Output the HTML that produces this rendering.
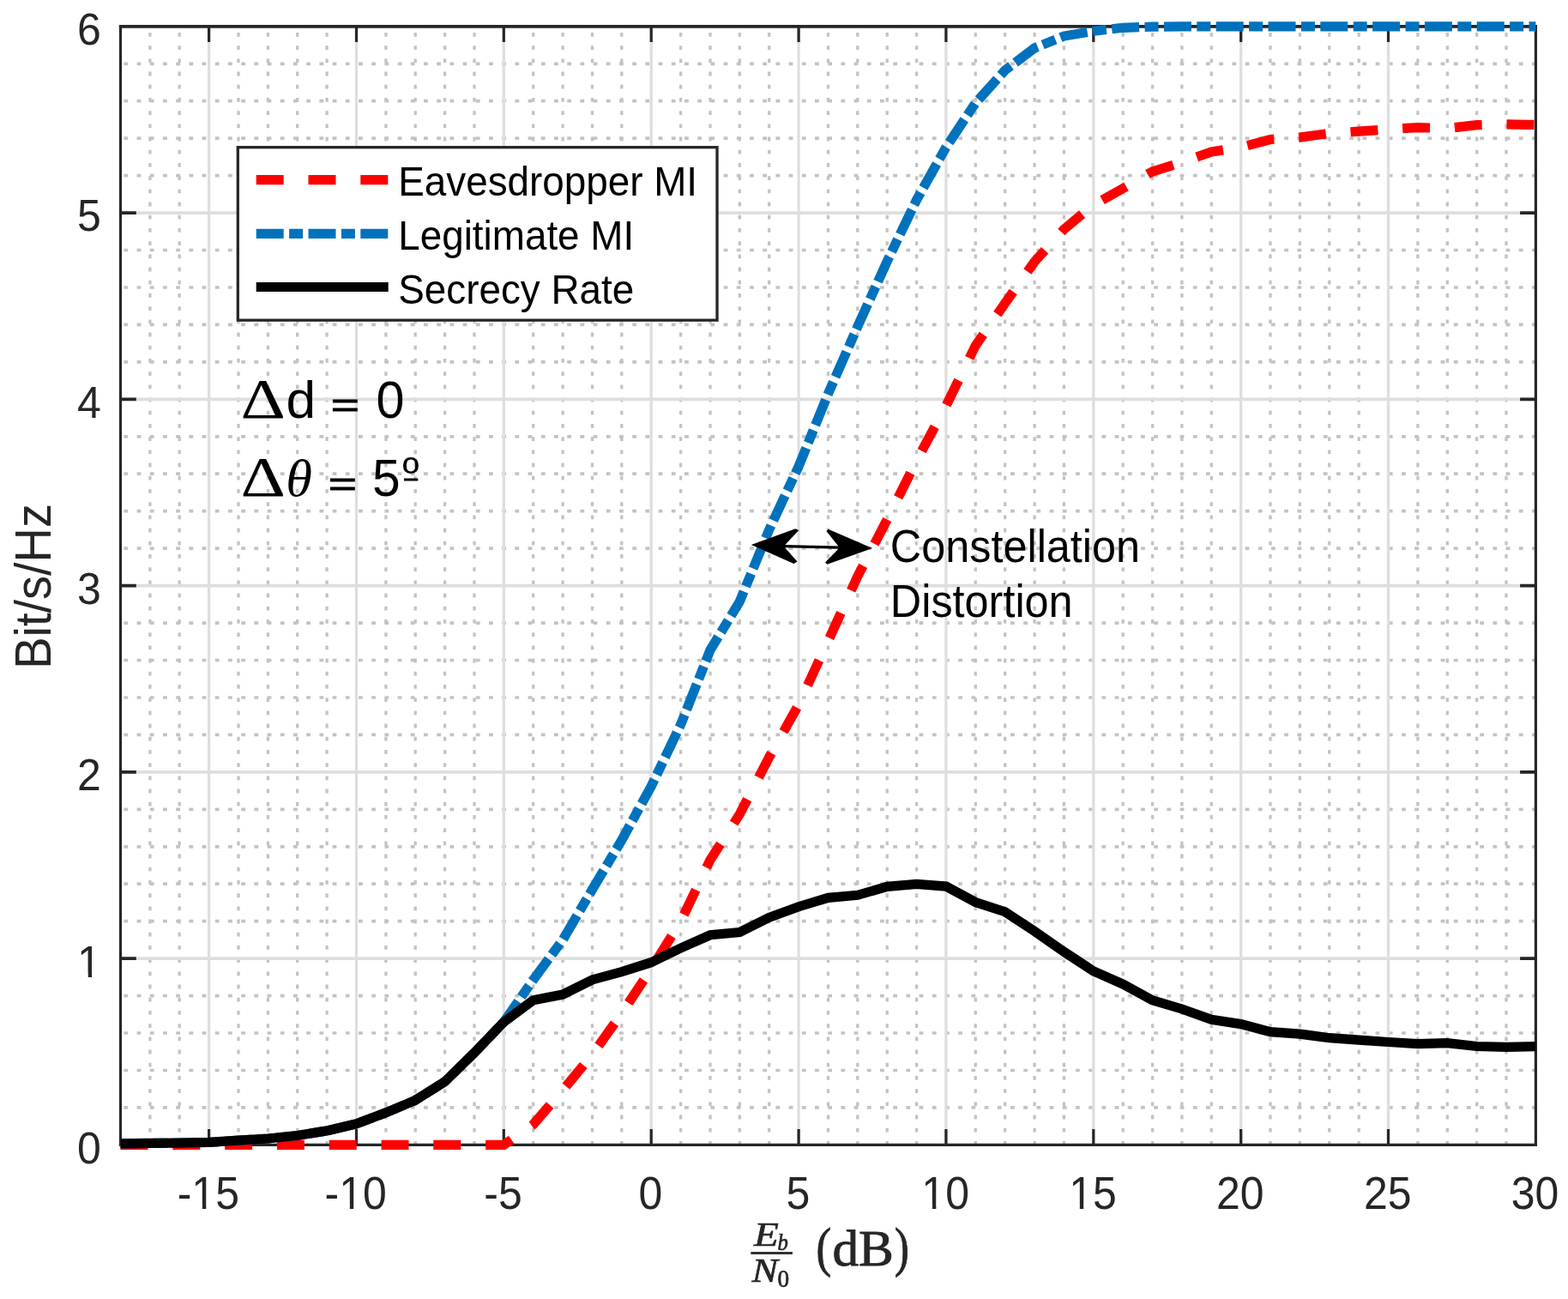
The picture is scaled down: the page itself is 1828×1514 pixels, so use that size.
<!DOCTYPE html>
<html lang="en"><head><meta charset="utf-8"><title>Mutual information and secrecy rate</title>
<style>html,body{margin:0;padding:0;background:#fff}svg{display:block}text{font-family:'Liberation Sans', sans-serif}text.sf{font-family:'Liberation Serif', serif}</style></head><body>
<svg width="1828" height="1514" viewBox="0 0 1828 1514">
<rect width="1828" height="1514" fill="#fff"/>
<g stroke="#c3c3c3" fill="none">
<g stroke-width="3.3" stroke-dasharray="4.8 10.4">
<path d="M174.9,1334.8 V30.8"/>
<path d="M209.2,1334.8 V30.8"/>
<path d="M278.0,1334.8 V30.8"/>
<path d="M312.4,1334.8 V30.8"/>
<path d="M346.7,1334.8 V30.8"/>
<path d="M381.1,1334.8 V30.8"/>
<path d="M449.9,1334.8 V30.8"/>
<path d="M484.2,1334.8 V30.8"/>
<path d="M518.6,1334.8 V30.8"/>
<path d="M553.0,1334.8 V30.8"/>
<path d="M621.7,1334.8 V30.8"/>
<path d="M656.1,1334.8 V30.8"/>
<path d="M690.5,1334.8 V30.8"/>
<path d="M724.8,1334.8 V30.8"/>
<path d="M793.6,1334.8 V30.8"/>
<path d="M828.0,1334.8 V30.8"/>
<path d="M862.3,1334.8 V30.8"/>
<path d="M896.7,1334.8 V30.8"/>
<path d="M965.5,1334.8 V30.8"/>
<path d="M999.8,1334.8 V30.8"/>
<path d="M1034.2,1334.8 V30.8"/>
<path d="M1068.6,1334.8 V30.8"/>
<path d="M1137.3,1334.8 V30.8"/>
<path d="M1171.7,1334.8 V30.8"/>
<path d="M1206.1,1334.8 V30.8"/>
<path d="M1240.4,1334.8 V30.8"/>
<path d="M1309.2,1334.8 V30.8"/>
<path d="M1343.6,1334.8 V30.8"/>
<path d="M1377.9,1334.8 V30.8"/>
<path d="M1412.3,1334.8 V30.8"/>
<path d="M1481.0,1334.8 V30.8"/>
<path d="M1515.4,1334.8 V30.8"/>
<path d="M1549.8,1334.8 V30.8"/>
<path d="M1584.2,1334.8 V30.8"/>
<path d="M1652.9,1334.8 V30.8"/>
<path d="M1687.3,1334.8 V30.8"/>
<path d="M1721.7,1334.8 V30.8"/>
<path d="M1756.0,1334.8 V30.8"/>
</g><g stroke-width="3.7" stroke-dasharray="4.8 10.4">
<path d="M1790.8,1290.9 H140.5"/>
<path d="M1790.8,1247.5 H140.5"/>
<path d="M1790.8,1204.0 H140.5"/>
<path d="M1790.8,1160.6 H140.5"/>
<path d="M1790.8,1073.7 H140.5"/>
<path d="M1790.8,1030.2 H140.5"/>
<path d="M1790.8,986.8 H140.5"/>
<path d="M1790.8,943.3 H140.5"/>
<path d="M1790.8,856.4 H140.5"/>
<path d="M1790.8,813.0 H140.5"/>
<path d="M1790.8,769.5 H140.5"/>
<path d="M1790.8,726.1 H140.5"/>
<path d="M1790.8,639.1 H140.5"/>
<path d="M1790.8,595.7 H140.5"/>
<path d="M1790.8,552.2 H140.5"/>
<path d="M1790.8,508.8 H140.5"/>
<path d="M1790.8,421.9 H140.5"/>
<path d="M1790.8,378.4 H140.5"/>
<path d="M1790.8,335.0 H140.5"/>
<path d="M1790.8,291.5 H140.5"/>
<path d="M1790.8,204.6 H140.5"/>
<path d="M1790.8,161.2 H140.5"/>
<path d="M1790.8,117.7 H140.5"/>
<path d="M1790.8,74.3 H140.5"/>
</g></g>
<g stroke="#dedede" fill="none">
<g stroke-width="3.3">
<path d="M243.6,1334.4 V30.8"/>
<path d="M415.5,1334.4 V30.8"/>
<path d="M587.3,1334.4 V30.8"/>
<path d="M759.2,1334.4 V30.8"/>
<path d="M931.1,1334.4 V30.8"/>
<path d="M1102.9,1334.4 V30.8"/>
<path d="M1274.8,1334.4 V30.8"/>
<path d="M1446.7,1334.4 V30.8"/>
<path d="M1618.5,1334.4 V30.8"/>
</g><g stroke-width="3.7">
<path d="M140.5,1117.1 H1790.4"/>
<path d="M140.5,899.9 H1790.4"/>
<path d="M140.5,682.6 H1790.4"/>
<path d="M140.5,465.3 H1790.4"/>
<path d="M140.5,248.1 H1790.4"/>
</g></g>
<g stroke="#262626" fill="none">
<g stroke-width="3.2">
<path d="M140.5,28.9 V1335.9 M1790.4,28.9 V1335.9"/>
<path d="M243.6,1334.4 v-18.3 M243.6,30.8 v18.3"/>
<path d="M415.5,1334.4 v-18.3 M415.5,30.8 v18.3"/>
<path d="M587.3,1334.4 v-18.3 M587.3,30.8 v18.3"/>
<path d="M759.2,1334.4 v-18.3 M759.2,30.8 v18.3"/>
<path d="M931.1,1334.4 v-18.3 M931.1,30.8 v18.3"/>
<path d="M1102.9,1334.4 v-18.3 M1102.9,30.8 v18.3"/>
<path d="M1274.8,1334.4 v-18.3 M1274.8,30.8 v18.3"/>
<path d="M1446.7,1334.4 v-18.3 M1446.7,30.8 v18.3"/>
<path d="M1618.5,1334.4 v-18.3 M1618.5,30.8 v18.3"/>
</g><g stroke-width="3.7">
<path d="M138.9,30.8 H1792.0"/>
<path d="M138.9,1334.4 H1792.0" stroke-width="3.2"/>
<path d="M140.5,1117.1 h18.3 M1790.4,1117.1 h-18.3"/>
<path d="M140.5,899.9 h18.3 M1790.4,899.9 h-18.3"/>
<path d="M140.5,682.6 h18.3 M1790.4,682.6 h-18.3"/>
<path d="M140.5,465.3 h18.3 M1790.4,465.3 h-18.3"/>
<path d="M140.5,248.1 h18.3 M1790.4,248.1 h-18.3"/>
</g></g>
<g fill="none" stroke-width="11.2" stroke-linejoin="miter">
<path d="M140.5,1334.4 L174.9,1334.4 L209.2,1334.4 L243.6,1334.4 L278.0,1334.4 L312.4,1334.4 L346.7,1334.4 L381.1,1334.4 L415.5,1334.4 L449.9,1334.4 L484.2,1334.4 L518.6,1334.4 L553.0,1334.4 L587.3,1334.4 L621.7,1310.5 L656.1,1270.7 L690.5,1229.2 L724.8,1181.0 L759.2,1129.1 L793.6,1073.9 L828.0,1002.2 L862.3,949.0 L896.7,882.5 L931.1,821.2 L965.5,746.9 L999.8,671.7 L1034.2,605.7 L1068.6,536.8 L1102.9,472.9 L1137.3,402.8 L1171.7,353.4 L1206.1,305.0 L1240.4,267.2 L1274.8,238.7 L1309.2,219.6 L1343.6,199.8 L1377.9,189.2 L1412.3,177.0 L1446.7,171.6 L1481.0,162.5 L1515.4,160.1 L1549.8,155.5 L1584.2,153.1 L1618.5,150.7 L1652.9,148.6 L1687.3,149.6 L1721.7,145.7 L1756.0,144.9 L1790.4,145.5" stroke="#ff0000" stroke-dasharray="32 28.8"/>
<path d="M140.5,1332.9 L174.9,1332.4 L209.2,1332.2 L243.6,1331.4 L278.0,1329.2 L312.4,1327.0 L346.7,1323.5 L381.1,1317.9 L415.5,1309.8 L449.9,1296.8 L484.2,1282.3 L518.6,1260.7 L553.0,1227.1 L587.3,1191.2 L621.7,1141.9 L656.1,1095.4 L690.5,1036.7 L724.8,979.2 L759.2,916.4 L793.6,844.5 L828.0,757.6 L862.3,701.1 L896.7,617.4 L931.1,543.5 L965.5,458.8 L999.8,380.6 L1034.2,304.6 L1068.6,232.9 L1102.9,171.6 L1137.3,119.9 L1171.7,81.9 L1206.1,56.0 L1240.4,42.1 L1274.8,36.2 L1309.2,32.3 L1343.6,31.2 L1377.9,30.8 L1412.3,30.8 L1446.7,30.8 L1481.0,30.8 L1515.4,30.8 L1549.8,30.8 L1584.2,30.8 L1618.5,30.8 L1652.9,30.8 L1687.3,30.8 L1721.7,30.8 L1756.0,30.8 L1790.4,30.8" stroke="#0072bd" stroke-dasharray="32 6.4 16 6.4"/>
<path d="M140.5,1332.9 L174.9,1332.4 L209.2,1332.2 L243.6,1331.4 L278.0,1329.2 L312.4,1327.0 L346.7,1323.5 L381.1,1317.9 L415.5,1309.8 L449.9,1296.8 L484.2,1282.3 L518.6,1260.7 L553.0,1227.1 L587.3,1191.2 L621.7,1165.8 L656.1,1159.1 L690.5,1141.9 L724.8,1132.6 L759.2,1121.7 L793.6,1105.0 L828.0,1089.8 L862.3,1086.5 L896.7,1069.3 L931.1,1056.7 L965.5,1046.3 L999.8,1043.3 L1034.2,1033.3 L1068.6,1030.4 L1102.9,1033.1 L1137.3,1051.5 L1171.7,1062.8 L1206.1,1085.4 L1240.4,1109.3 L1274.8,1131.9 L1309.2,1147.1 L1343.6,1165.8 L1377.9,1176.0 L1412.3,1188.2 L1446.7,1193.6 L1481.0,1202.7 L1515.4,1205.1 L1549.8,1209.7 L1584.2,1212.1 L1618.5,1214.5 L1652.9,1216.6 L1687.3,1215.6 L1721.7,1219.5 L1756.0,1220.3 L1790.4,1219.7" stroke="#000"/>
</g>
<g fill="#262626">
<text transform="translate(117.90,1355.80) scale(1,1.04)" font-size="50" text-anchor="end">0</text>
<text transform="translate(117.90,1138.53) scale(1,1.04)" font-size="50" text-anchor="end">1</text>
<text transform="translate(117.90,921.27) scale(1,1.04)" font-size="50" text-anchor="end">2</text>
<text transform="translate(117.90,704.00) scale(1,1.04)" font-size="50" text-anchor="end">3</text>
<text transform="translate(117.90,486.73) scale(1,1.04)" font-size="50" text-anchor="end">4</text>
<text transform="translate(117.90,269.47) scale(1,1.04)" font-size="50" text-anchor="end">5</text>
<text transform="translate(117.90,52.20) scale(1,1.04)" font-size="50" text-anchor="end">6</text>
<text transform="translate(242.82,1408.60) scale(1,1.055)" font-size="50" text-anchor="middle">-15</text>
<text transform="translate(414.68,1408.60) scale(1,1.055)" font-size="50" text-anchor="middle">-10</text>
<text transform="translate(586.55,1408.60) scale(1,1.055)" font-size="50" text-anchor="middle">-5</text>
<text transform="translate(758.41,1408.60) scale(1,1.055)" font-size="50" text-anchor="middle">0</text>
<text transform="translate(930.28,1408.60) scale(1,1.055)" font-size="50" text-anchor="middle">5</text>
<text transform="translate(1102.14,1408.60) scale(1,1.055)" font-size="50" text-anchor="middle">10</text>
<text transform="translate(1274.01,1408.60) scale(1,1.055)" font-size="50" text-anchor="middle">15</text>
<text transform="translate(1445.87,1408.60) scale(1,1.055)" font-size="50" text-anchor="middle">20</text>
<text transform="translate(1617.74,1408.60) scale(1,1.055)" font-size="50" text-anchor="middle">25</text>
<text transform="translate(1789.60,1408.60) scale(1,1.055)" font-size="50" text-anchor="middle">30</text>
<g fill="#fff"><rect x="93.10" y="1134.03" width="9.62" height="5.30"/><rect x="107.10" y="1134.03" width="9.50" height="5.30"/><rect x="226.34" y="1404.04" width="9.62" height="5.36"/><rect x="240.34" y="1404.04" width="9.50" height="5.36"/><rect x="398.21" y="1404.04" width="9.62" height="5.36"/><rect x="412.21" y="1404.04" width="9.50" height="5.36"/><rect x="1077.34" y="1404.04" width="9.62" height="5.36"/><rect x="1091.34" y="1404.04" width="9.50" height="5.36"/><rect x="1249.21" y="1404.04" width="9.62" height="5.36"/><rect x="1263.21" y="1404.04" width="9.50" height="5.36"/></g>
<text transform="translate(59.00,683.40) rotate(-90) scale(1,1.065)" font-size="56" text-anchor="middle">Bit/s/Hz</text>
<text transform="translate(878.90,1451.70) scale(1.152,1)" font-size="40.9" class="sf" font-style="italic" stroke="#262626" stroke-width="0.7">E</text>
<text transform="translate(906.60,1456.50) scale(0.906,1)" font-size="27.2" class="sf" font-style="italic" stroke="#262626" stroke-width="0.7">b</text>
<rect x="875.3" y="1459.1" width="48.6" height="2.8"/>
<text transform="translate(876.50,1493.90) scale(1.129,1)" font-size="40.5" class="sf" font-style="italic" stroke="#262626" stroke-width="0.7">N</text>
<text transform="translate(906.50,1500.00) scale(0.956,1)" font-size="28.4" class="sf" stroke="#262626" stroke-width="0.7">0</text>
<text transform="translate(951.50,1475.25) scale(0.875,1.068)" font-size="60" class="sf" stroke="#262626" stroke-width="0.9">(</text>
<text transform="translate(970.40,1475.10) scale(1.02,1)" font-size="60" class="sf" stroke="#262626" stroke-width="0.9">dB</text>
<text transform="translate(1043.00,1475.25) scale(0.84,1.068)" font-size="60" class="sf" stroke="#262626" stroke-width="0.9">)</text>
</g>
<rect x="277.3" y="171.7" width="558.7" height="201.5" fill="#fff" stroke="#262626" stroke-width="3.3"/>
<g fill="none" stroke-width="11.2">
<path d="M298.7,209.7 H452.7" stroke="#ff0000" stroke-dasharray="32 28.8"/>
<path d="M298.7,272.4 H452.7" stroke="#0072bd" stroke-dasharray="32 6.4 16 6.4"/>
<path d="M298.7,334.5 H452.7" stroke="#000"/>
</g>
<g fill="#000">
<text transform="translate(464.20,227.90) scale(1,1.047)" font-size="45.83">Eavesdropper MI</text>
<text transform="translate(464.20,290.60) scale(1,1.047)" font-size="45.83">Legitimate MI</text>
<text transform="translate(464.20,353.60) scale(1,1.047)" font-size="45.83">Secrecy Rate</text>
<text transform="translate(280.60,486.80) scale(1.233,1)" font-size="66.1" class="sf">&#916;</text>
<text transform="translate(280.60,578.20) scale(1.233,1)" font-size="66.1" class="sf">&#916;</text>
<text transform="translate(333.50,487.00) scale(0.998,0.976)" font-size="62.5">d</text>
<text transform="translate(386.10,486.20) scale(0.898,0.64)" font-size="62.5" stroke="#000" stroke-width="1.875">=</text>
<text transform="translate(438.60,487.00) scale(0.95,0.987)" font-size="62.5">0</text>
<text transform="translate(333.20,578.40) scale(1,0.97)" font-size="62.5" class="sf" font-style="italic">&#952;</text>
<text transform="translate(383.10,577.60) scale(0.898,0.64)" font-size="62.5" stroke="#000" stroke-width="1.875">=</text>
<text transform="translate(434.05,578.40) scale(0.94,0.987)" font-size="62.5">5</text>
<text transform="translate(469.30,568.00) scale(1.065,1)" font-size="49.7">&#186;</text>
<rect x="471" y="557.5" width="16.3" height="3"/>
<text transform="translate(1037.80,654.60) scale(1,1.06)" font-size="50.4">Constellation</text>
<text transform="translate(1037.80,718.70) scale(1,1.06)" font-size="50.4">Distortion</text>
</g>
<g fill="#000" stroke="none">
<path d="M914.5,636.6 L978,638.2" stroke="#000" stroke-width="3.3" fill="none"/>
<path d="M875.8,634.9 L927.3,616.2 L931.3,618.0 L915.5,634.7 L915.5,638.8 L929.5,654.6 L925.5,656.9 Z"/>
<path d="M1017.1,639.0 L965.6,616.7 L963.4,618.9 L976.9,636.1 L976.9,640.2 L962.0,655.5 L964.3,657.8 Z"/>
</g>
</svg></body></html>
